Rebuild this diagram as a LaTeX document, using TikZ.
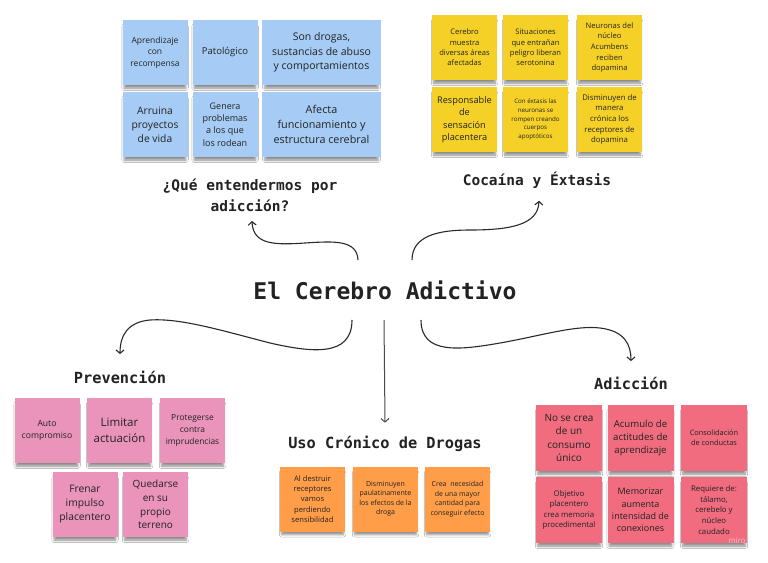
\documentclass[tikz,border=0pt]{standalone}
\usepackage{fontspec}
\setmainfont{Open Sans}
\newfontfamily\headfont{DejaVu Sans Mono}
\usetikzlibrary{arrows.meta,shadows.blur}
\definecolor{blueN}{HTML}{A6CCF5}
\definecolor{yellowN}{HTML}{F5D128}
\definecolor{pinkN}{HTML}{EA94BB}
\definecolor{orangeN}{HTML}{FF9D48}
\definecolor{redN}{HTML}{F16C7F}
\definecolor{textc}{HTML}{222222}
\definecolor{linec}{HTML}{2A2A2A}
\newcommand\nfs[2]{\fontsize{#1}{#2}\selectfont}
\tikzset{
  note/.style={rectangle, minimum width=65pt, minimum height=65pt, inner sep=1pt,
    align=center, text=textc,
    blur shadow={shadow xshift=0pt, shadow yshift=-5pt, shadow scale=0.95,
      shadow opacity=45, shadow blur radius=2.5pt}},
  wide/.style={minimum width=119pt},
  heading/.style={align=center, text=textc, font=\headfont\bfseries\nfs{14.5}{21}},
  headingb/.style={align=center, text=textc, font=\headfont\bfseries\nfs{15.3}{20}},
  conn/.style={draw=linec, line width=1.1pt, -{Straight Barb[length=3.5pt,width=8pt]}},
}
\begin{document}
\begin{tikzpicture}[x=1pt,y=-1pt]
\useasboundingbox[fill=white] (0,0) rectangle (768,562);

% ---- blue notes
\node[note, fill=blueN, font=\nfs{8.5}{11.7}] (b1) at (155,52.5) {Aprendizaje\\con\\recompensa};
\node[note, fill=blueN, font=\nfs{9.5}{13}] (b2) at (225,52.5) {Patológico};
\node[note, wide, fill=blueN, font=\nfs{10.5}{14.5}] (b3) at (321.5,52.5) {Son drogas,\\sustancias de abuso\\y comportamientos};
\node[note, fill=blueN, font=\nfs{10.3}{13.8}] (b4) at (155,124.5) {Arruina\\proyectos\\de vida};
\node[note, fill=blueN, font=\nfs{9}{12.4}] (b5) at (225,124.5) {Genera\\problemas\\a los que\\los rodean};
\node[note, wide, fill=blueN, font=\nfs{10.8}{15}] (b6) at (321.5,124.5) {Afecta\\funcionamiento y\\estructura cerebral};

% ---- yellow notes
\node[note, fill=yellowN, font=\nfs{7.6}{10.4}] (y1) at (464.5,47.5) {Cerebro\\muestra\\diversas áreas\\afectadas};
\node[note, fill=yellowN, font=\nfs{7.6}{10.4}] (y2) at (535.5,47.5) {Situaciones\\que entrañan\\peligro liberan\\serotonina};
\node[note, fill=yellowN, font=\nfs{7.6}{10.6}] (y3) at (609.5,47.5) {Neuronas del\\núcleo\\Acumbens\\reciben\\dopamina};
\node[note, fill=yellowN, font=\nfs{9.2}{12.5}] (y4) at (464.5,119.5) {Responsable\\de\\sensación\\placentera};
\node[note, fill=yellowN, font=\nfs{6.2}{8.6}] (y5) at (535.5,119.5) {Con éxtasis las\\neuronas se\\rompen creando\\cuerpos\\apoptóticos};
\node[note, fill=yellowN, font=\nfs{7.8}{10.6}] (y6) at (609.5,119.5) {Disminuyen de\\manera\\crónica los\\receptores de\\dopamina};

% ---- pink notes
\node[note, fill=pinkN, font=\nfs{8.6}{11.7}] (p1) at (47,430.5) {Auto\\compromiso};
\node[note, fill=pinkN, font=\nfs{11.5}{16}] (p2) at (119.5,430.5) {Limitar\\actuación};
\node[note, fill=pinkN, font=\nfs{8.4}{11.7}] (p3) at (192.5,430.5) {Protegerse\\contra\\imprudencias};
\node[note, fill=pinkN, font=\nfs{10.3}{14}] (p4) at (85,504.5) {Frenar\\impulso\\placentero};
\node[note, fill=pinkN, font=\nfs{10}{13.7}] (p5) at (155.5,504.5) {Quedarse\\en su\\propio\\terreno};

% ---- orange notes
\node[note, fill=orangeN, font=\nfs{7.6}{10.4}] (o1) at (312.5,499) {Al destruir\\receptores\\vamos\\perdiendo\\sensibilidad};
\node[note, fill=orangeN, font=\nfs{7}{9.5}] (o2) at (385.5,499) {Disminuyen\\paulatinamente\\los efectos de la\\droga};
\node[note, fill=orangeN, font=\nfs{7}{9.5}] (o3) at (457.5,499) {Crea~ necesidad\\de una mayor\\cantidad para\\conseguir efecto};

% ---- red notes
\node[note, fill=redN, minimum width=66pt, minimum height=66pt, font=\nfs{10}{13.5}] (r1) at (569,438) {No se crea\\de un\\consumo\\único};
\node[note, fill=redN, minimum width=66pt, minimum height=66pt, font=\nfs{9.6}{13}] (r2) at (640.5,438) {Acumulo de\\actitudes de\\aprendizaje};
\node[note, fill=redN, minimum width=66pt, minimum height=66pt, font=\nfs{7.4}{10}] (r3) at (714,438) {Consolidación\\de conductas};
\node[note, fill=redN, minimum width=66pt, minimum height=66pt, font=\nfs{7.8}{10.6}] (r4) at (569,510) {Objetivo\\placentero\\crea memoria\\procedimental};
\node[note, fill=redN, minimum width=66pt, minimum height=66pt, font=\nfs{9}{12.2}] (r5) at (640.5,510) {Memorizar\\aumenta\\intensidad de\\conexiones};
\node[note, fill=redN, minimum width=66pt, minimum height=66pt, font=\nfs{7.8}{10.6}] (r6) at (714,510) {Requiere de:\\tálamo,\\cerebelo y\\núcleo\\caudado};

% ---- headings
\node[heading] (hq) at (250,195) {¿Qué entendermos por\\adicción?};
\node[heading] (hc) at (537,180) {Cocaína y Éxtasis};
\node[align=center, text=textc, font=\headfont\bfseries\nfs{23}{28}] (main) at (385,290) {El Cerebro Adictivo};
\node[headingb] (hp) at (120,377) {Prevención};
\node[headingb] (hu) at (385,444) {Uso Crónico de Drogas};
\node[headingb] (ha) at (631,383) {Adicción};

% ---- connector starts
\coordinate (s1) at (358,260);
\coordinate (s2) at (412,260);
\coordinate (s3) at (352,320);
\coordinate (s4) at (384,320);
\coordinate (s5) at (421,320);

% ---- connectors
\draw[conn] (s1) .. controls (357,240) and (335,241) .. (305,243)
  .. controls (275,245) and (253,245) .. ([yshift=-6pt]hq.south -| 252,0);
\draw[conn] (s2) .. controls (412,235) and (440,230) .. (470,230)
  .. controls (510,230) and (538,225) .. ([yshift=-9pt]hc.south -| 539,0);
\draw[conn] (s3) .. controls (352,358) and (310,352) .. (270,343)
  .. controls (220,330) and (180,318) .. (150,320)
  .. controls (128,322) and (120,335) .. ([yshift=13pt]hp.north -| 120,0);
\draw[conn, draw=linec!85, line width=1pt] (s4) -- ([yshift=10pt]hu.north);
\draw[conn] (s5) .. controls (421,355) and (460,350) .. (500,343)
  .. controls (540,336) and (575,325) .. (600,328)
  .. controls (625,331) and (631,345) .. ([yshift=12pt]ha.north -| 631,0);

% ---- watermark
\node[text=white, opacity=0.55, font=\nfs{8}{9}] (wm) at (737,541) {miro};
\end{tikzpicture}
\end{document}
